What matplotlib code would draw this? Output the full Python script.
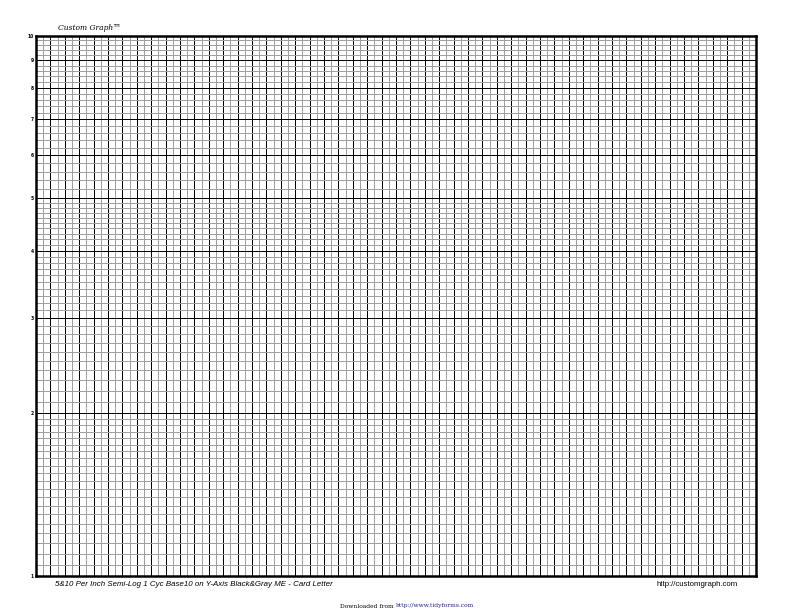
import matplotlib.pyplot as plt
import numpy as np

# grid spacing of the paper
x_major = np.arange(0, 101, 2)          # black, 5 per inch
x_minor = np.arange(0, 101, 1)          # gray, 10 per inch
y_major = [1, 2, 3, 4, 5, 6, 7, 8, 9, 10]
y_minor = (list(np.arange(1.05, 2.0, 0.05)) + list(np.arange(2.1, 5.0, 0.1))
           + list(np.arange(5.2, 10.0, 0.2)))
y_labels = ['1', '2', '3', '4', '5', '6', '7', '8', '9', '10']

title_txt = 'Custom Graph\u2122'
footer_txt = '5&10 Per Inch Semi-Log 1 Cyc Base10 on Y-Axis Black&Gray ME - Card Letter'
site_txt = 'http://customgraph.com'

W, H = 792, 612
fig = plt.figure(figsize=(W / 72, H / 72), dpi=72)
ax = fig.add_axes([36 / W, 1 - 576 / H, 720 / W, 540.5 / H])

ax.set_yscale('log')
ax.set_xlim(0, 100)
ax.set_ylim(1, 10)

ax.set_xticks(x_major)
ax.set_xticks(x_minor, minor=True)
ax.set_yticks(y_major)
ax.set_yticks(y_minor, minor=True)
ax.set_xticklabels([])
ax.set_yticklabels(y_labels, fontsize=4.5, fontweight='bold')
ax.tick_params(which='both', length=0, pad=2)
ax.yaxis.set_minor_formatter(plt.NullFormatter())

ax.grid(which='minor', color='#a0a0a0', linewidth=1.0)
ax.grid(which='major', color='black', linewidth=1.0)
ax.set_axisbelow(True)

for s in ax.spines.values():
    s.set_linewidth(2.5)
    s.set_zorder(5)

fig.text(58 / W, 1 - 28 / H, title_txt, fontsize=7.5, style='italic',
         family='DejaVu Serif', va='center', ha='left')
fig.text(55 / W, 1 - 584 / H, footer_txt, fontsize=7.9, style='italic',
         family='Liberation Sans', va='center', ha='left')
fig.text(738 / W, 1 - 584 / H, site_txt, fontsize=7.7,
         family='Liberation Sans', va='center', ha='right')
fig.text(396 / W, 1 - 606 / H, 'Downloaded from ', fontsize=6, family='DejaVu Serif',
         va='center', ha='right')
fig.text(396 / W, 1 - 606 / H, 'http://www.tidyforms.com', fontsize=6, family='DejaVu Serif',
         color='#1a1aa6', va='center', ha='left')

fig.savefig('out.png', dpi=72)
